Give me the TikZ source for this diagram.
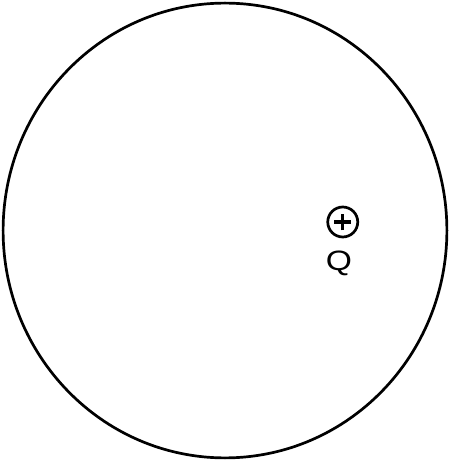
\documentclass[tikz,border=0pt]{standalone}
\usepackage{fontspec}
\setmainfont{Liberation Sans}
\usetikzlibrary{positioning, shapes.geometric}
\tikzset{
	field/.style = {ellipse, draw=black, line width=2.7pt, minimum width=443.8pt, minimum height=454.8pt, inner sep=0pt},
	charge/.style = {circle, draw=black, line width=2.7pt, minimum size=30pt, inner sep=0pt,
		path picture={\draw[line width=3.3pt] (path picture bounding box.center) +(-8.3pt,0) -- +(8.3pt,0)
			(path picture bounding box.center) +(0,-8.3pt) -- +(0,8.3pt);}},
	chargelabel/.style = {font=\fontsize{28pt}{33pt}\selectfont, inner sep=0pt}
}

\begin{document}
\begin{tikzpicture}[x=1pt, y=1pt]
	\useasboundingbox (0,0) rectangle (450,461);
	\node[field] (sphere) at (225,230.5) {};
	\node[charge] (q) at (342.75,239) {};
	\node[chargelabel, below=12.1pt of q, xshift=-3.75pt] (qlabel) {\scalebox{1.2}[1]{Q}};
\end{tikzpicture}
\end{document}
